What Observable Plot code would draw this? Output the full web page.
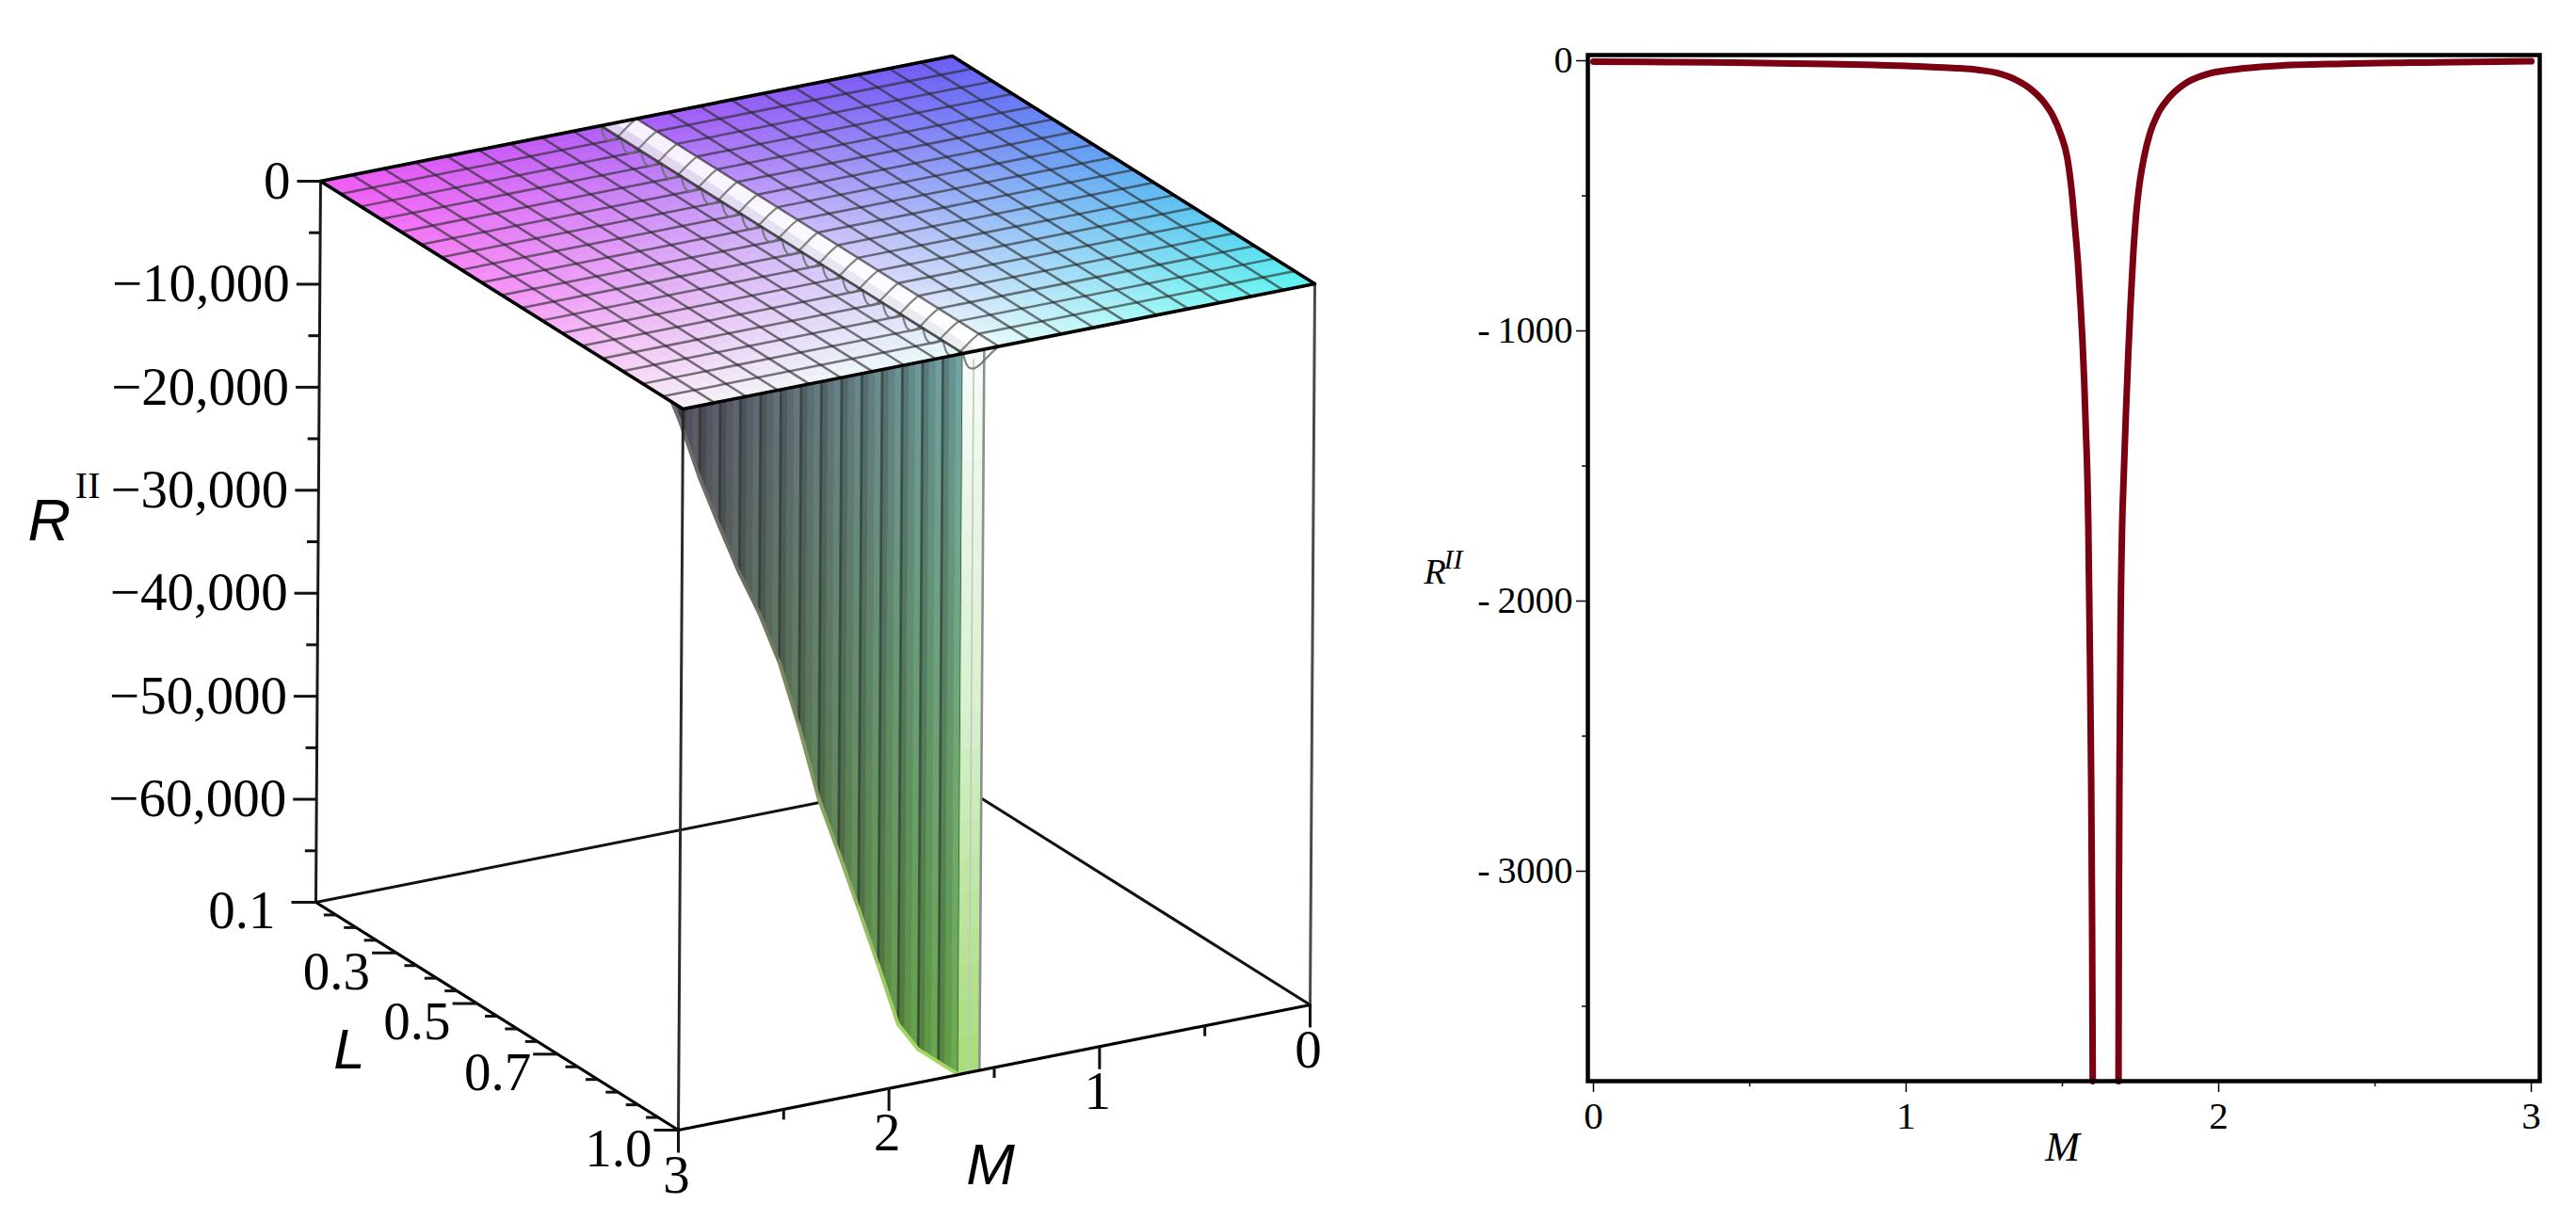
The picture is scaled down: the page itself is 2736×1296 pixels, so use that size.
<!DOCTYPE html>
<html>
<head>
<meta charset="utf-8">
<script src="https://cdn.jsdelivr.net/npm/d3@7"></script>
<script src="https://cdn.jsdelivr.net/npm/@observablehq/plot@0.6"></script>
<style>
  html, body { margin: 0; padding: 0; background: #ffffff; }
  #wrap { position: relative; width: 2736px; height: 1296px; overflow: hidden; background: #fff; }
  #left { position: absolute; left: 0; top: 0; }
  #right { position: absolute; left: 1500px; top: 0; }
</style>
</head>
<body>
<div id="wrap"><div id="left"></div><div id="right"></div></div>
<script>
// ================= DATA =================
// ---- Right panel: R^II against M (two branches around the singularity) ----
const leftBranchM = [0, 0.25, 0.5, 0.75, 0.9, 1.0, 1.1, 1.17, 1.23, 1.29, 1.35, 1.40, 1.44, 1.47, 1.495, 1.515, 1.53, 1.54, 1.55, 1.558, 1.564, 1.57, 1.575, 1.58, 1.583, 1.588, 1.592, 1.595, 1.597];
const leftBranchR = [-3, -5, -8, -12, -16, -19, -24, -28, -34, -45, -70, -106, -152, -205, -274, -356, -485, -613, -753, -903, -1031, -1194, -1368, -1543, -1728, -2200, -2659, -3200, -3777];
const rightBranchM = [1.6795, 1.6805, 1.6825, 1.686, 1.691, 1.696, 1.703, 1.711, 1.718, 1.726, 1.736, 1.746, 1.761, 1.781, 1.806, 1.841, 1.892, 1.962, 2.052, 2.183, 2.4, 2.7, 3.0];
const rightBranchR = [-3777, -3200, -2659, -2100, -1728, -1543, -1310, -1078, -903, -729, -567, -462, -358, -265, -195, -137, -85, -50, -32, -19, -11, -6, -2];
const rightXTicks = [0, 1, 2, 3];
const rightXMinor = [0.5, 1.5, 2.5];
const rightYTicks = [0, -1000, -2000, -3000];
const rightYMinor = [-500, -1500, -2500, -3500];
const rightXDomain = [-0.018, 3.027];
const rightYDomain = [-3777, 21];

// ---- Left panel: 3-D surface R^II(M, L) ----
const M_RANGE = [0, 3];
const L_RANGE = [0.1, 1.0];
const Z_RANGE = [-70000, 0];
const mGrid = [0, 0.15, 0.3, 0.45, 0.6, 0.75, 0.9, 1.05, 1.2, 1.35, 1.5, 1.8, 1.95, 2.1, 2.25, 2.4, 2.55, 2.7, 2.85, 3];
const lGrid = [0.1, 0.15, 0.2, 0.25, 0.3, 0.35, 0.4, 0.45, 0.5, 0.55, 0.6, 0.65, 0.7, 0.75, 0.8, 0.85, 0.9, 0.95, 1.0];
// depth reached by the sampled groove at each L (clipped at the box floor)
const curtainDepth = [8500, 12500, 16500, 20200, 23700, 28000, 31500, 34800, 37500, 41000, 46000, 51800, 55800, 60000, 64300, 68800, 70000, 70000, 70000];
const grooveM = 1.67;          // edge of the groove on the flat top
const grooveBandEnd = 1.5;     // far edge of the rounded groove band
const frontWallEnd = 1.57;     // far edge of the front cross-section of the groove
const grooveProfileM = [1.67, 1.655, 1.625, 1.585, 1.545, 1.5];
const grooveProfileZ = [0, -1300, -1800, -1400, -600, 0];
const zTicks = [0, -10000, -20000, -30000, -40000, -50000, -60000];
const zMinor = [-5000, -15000, -25000, -35000, -45000, -55000, -65000];
const lTicks = [0.1, 0.3, 0.5, 0.7, 1.0];
const lMinor = [0.15, 0.2, 0.25, 0.35, 0.4, 0.45, 0.55, 0.6, 0.65, 0.75, 0.8, 0.85, 0.9, 0.95];
const mTicks3 = [0, 1, 2, 3];
const mMinor3 = [0.5, 1.5, 2.5];

// ================= VIEW (orthographic projection of the box) =================
const VIEW = { o: [340, 192], eu: [671, -133], ev: [385, 242], ew: [-5, 766] };
function P(M, L, z) {
  const u = (M_RANGE[1] - M) / (M_RANGE[1] - M_RANGE[0]);
  const v = (L - L_RANGE[0]) / (L_RANGE[1] - L_RANGE[0]);
  const w = (Z_RANGE[1] - z) / (Z_RANGE[1] - Z_RANGE[0]);
  return [VIEW.o[0] + u * VIEW.eu[0] + v * VIEW.ev[0] + w * VIEW.ew[0],
          VIEW.o[1] + u * VIEW.eu[1] + v * VIEW.ev[1] + w * VIEW.ew[1]];
}
const ZMIN = Z_RANGE[0], MMAX = M_RANGE[1], MMIN = M_RANGE[0], LMIN = L_RANGE[0], LMAX = L_RANGE[1];

let pid = 0;
function pushPoly(arr, pts, fill) {
  const id = pid++;
  pts.concat([pts[0]]).forEach(([M, L, z]) => { const [x, y] = P(M, L, z); arr.push({ id, x, y, fill }); });
}
function pushLine(arr, pts, stroke) {
  const id = pid++;
  pts.forEach(([M, L, z]) => { const [x, y] = P(M, L, z); arr.push({ id, x, y, stroke }); });
}

// ---- colours ----
const TOP_COLORS = [
  ["#f25af4", "#a85cf6", "#6a5cf4"],
  ["#f594f6", "#cbbdf9", "#60acf2"],
  ["#f8f1f8", "#e6fbfb", "#5af3ef"]
];
const topRowInterp = TOP_COLORS.map(row => d3.piecewise(d3.interpolateRgb, row));
function topColor(u, v) {
  return d3.piecewise(d3.interpolateRgb, topRowInterp.map(f => f(u)))(v);
}
const curtainTop = d3.interpolateRgb("#594370", "#6b9c9c");
const curtainBot = d3.interpolateRgb("#4c5a3c", "#66a44a");
function curtainColor(L, zf) {
  const vv = Math.max(0, Math.min(1, (L - 0.25) / 0.75));
  return d3.interpolateRgb(curtainTop(vv), curtainBot(vv))(Math.max(0, Math.min(1, zf)));
}

// ---- top flat sheet patches ----
const topPatches = [];
const NV = 36;
const mBreaks = [];
for (let i = 0; i <= 60; i++) { const m = MMAX - (MMAX - MMIN) * i / 60; if (Math.abs(m - grooveM) > 0.03) mBreaks.push(m); }
mBreaks.push(grooveM);
mBreaks.sort((a, b) => b - a);
for (let i = 0; i < mBreaks.length - 1; i++) {
  const Ma = mBreaks[i], Mb = mBreaks[i + 1];
  const Mc = (Ma + Mb) / 2;
  const u = (MMAX - Mc) / (MMAX - MMIN);
  for (let j = 0; j < NV; j++) {
    const La = LMIN + (LMAX - LMIN) * j / NV, Lb = LMIN + (LMAX - LMIN) * (j + 1) / NV;
    let c = topColor(u, (j + 0.5) / NV);
    if (Mc < grooveM && Mc > grooveBandEnd) {
      const k = (grooveM - Mc) / (grooveM - grooveBandEnd);
      c = d3.interpolateRgb(c, k < 0.35 ? "#ececf0" : "#ffffff")(k < 0.35 ? 0.8 : 0.9);
    }
    pushPoly(topPatches, [[Ma, La, 0], [Mb, La, 0], [Mb, Lb, 0], [Ma, Lb, 0]], c);
  }
}

// ---- top grid lines ----
const topGridLines = [];
mGrid.forEach(M => pushLine(topGridLines, [[M, LMIN, 0], [M, LMAX, 0]], "#2a2a2a"));
const tubeLines = [];
lGrid.forEach(L => {
  pushLine(topGridLines, [[MMAX, L, 0], [grooveM, L, 0]], "#2a2a2a");
  pushLine(topGridLines, [[grooveBandEnd, L, 0], [MMIN, L, 0]], "#2a2a2a");
  pushLine(tubeLines, grooveProfileM.map((m, k) => [m, L, grooveProfileZ[k]]), "#777");
});
const grooveEdge = [];
pushLine(grooveEdge, [[grooveM, LMIN, 0], [grooveM, LMAX, 0]], "#333");

// ---- curtain (steep wall of the groove) ----
const curtainPatches = [];
const S = 3, K = 18;
for (let i = 0; i < lGrid.length - 1; i++) {
  const La = lGrid[i], Lb = lGrid[i + 1], Da = curtainDepth[i], Db = curtainDepth[i + 1];
  for (let s = 0; s < S; s++) {
    const f0 = s / S, f1 = (s + 1) / S;
    const L0 = La + (Lb - La) * f0, L1 = La + (Lb - La) * f1;
    const D0 = Da + (Db - Da) * f0, D1 = Da + (Db - Da) * f1;
    for (let k = 0; k < K; k++) {
      const t0 = k / K, t1 = (k + 1) / K;
      const zf = ((t0 + t1) / 2) * ((D0 + D1) / 2) / (-ZMIN);
      let c = curtainColor((L0 + L1) / 2, zf);
      c = s === 0 ? d3.color(c).darker(0.5).formatHex() : s === 1 ? d3.color(c).darker(0.1).formatHex() : d3.color(c).brighter(0.15).formatHex();
      pushPoly(curtainPatches, [[grooveM, L0, -t0 * D0], [grooveM, L1, -t0 * D1], [grooveM, L1, -t1 * D1], [grooveM, L0, -t1 * D0]], c);
    }
  }
}
const curtainLines = [];
lGrid.forEach((L, i) => pushLine(curtainLines, [[grooveM, L, 0], [grooveM, L, -curtainDepth[i]]], "#27302b"));
const rimLines = [];
const rimColor = d3.piecewise(d3.interpolateRgb, ["#7d6392", "#6c6c60", "#a4d664"]);
for (let i = 0; i < lGrid.length - 1; i++) {
  const zf = (curtainDepth[i] + curtainDepth[i + 1]) / 2 / (-ZMIN);
  pushLine(rimLines, [[grooveM, lGrid[i], -curtainDepth[i]], [grooveM, lGrid[i + 1], -curtainDepth[i + 1]]], rimColor(zf));
}

// ---- front cross-section of the groove (light strip) ----
const stripPatches = [];
const stripColor = d3.piecewise(d3.interpolateRgb, ["#f7fcf9", "#d6f1cc", "#a6dc76"]);
for (let k = 0; k < 20; k++) {
  const z0 = ZMIN * k / 20, z1 = ZMIN * (k + 1) / 20;
  pushPoly(stripPatches, [[grooveM, LMAX, z0], [frontWallEnd, LMAX, z0], [frontWallEnd, LMAX, z1], [grooveM, LMAX, z1]], stripColor((k + 0.5) / 20));
}
const stripLines = [];
pushLine(stripLines, [[frontWallEnd, LMAX, 0], [frontWallEnd, LMAX, ZMIN]], "#8e8e8e");
const stripInner = [];
pushLine(stripInner, [[(grooveM + frontWallEnd) / 2, LMAX, -800], [(grooveM + frontWallEnd) / 2, LMAX, ZMIN]], "#c4c4c4");

// ---- box edges ----
const hiddenEdges = [];
pushLine(hiddenEdges, [[MMAX, LMIN, ZMIN], [MMIN, LMIN, ZMIN], [MMIN, LMAX, ZMIN]], "#111");
pushLine(hiddenEdges, [[MMIN, LMIN, 0], [MMIN, LMIN, ZMIN]], "#111");
const topEdges = [];
pushLine(topEdges, [[MMAX, LMIN, 0], [MMIN, LMIN, 0], [MMIN, LMAX, 0], [MMAX, LMAX, 0], [MMAX, LMIN, 0]], "#000");
const floorEdges = [];
pushLine(floorEdges, [[MMAX, LMIN, ZMIN], [MMAX, LMAX, ZMIN], [MMIN, LMAX, ZMIN]], "#000");
const vertEdges = [];
pushLine(vertEdges, [[MMAX, LMIN, 0], [MMAX, LMIN, ZMIN]], "#1a1a1a");
pushLine(vertEdges, [[MMAX, LMAX, 0], [MMAX, LMAX, ZMIN]], "#2a2a2a");
pushLine(vertEdges, [[MMIN, LMAX, 0], [MMIN, LMAX, ZMIN]], "#4a4a4a");

// ---- 3-D axis ticks & labels ----
function tickRows(vals, f, dx, dy) {
  return vals.map(v => { const [x, y] = f(v); return { x1: x, y1: y, x2: x + dx, y2: y + dy }; });
}
const zAxisAt = z => P(MMAX, LMIN, z);
const lAxisAt = L => P(MMAX, L, ZMIN);
const mAxisAt = M => P(M, LMAX, ZMIN);
const ticks3 = [
  ...tickRows(zTicks, zAxisAt, -25, 0), ...tickRows(zMinor, zAxisAt, -12, 0),
  ...tickRows(lTicks, lAxisAt, -26, 0), ...tickRows(lMinor, lAxisAt, -13, 0),
  ...tickRows(mTicks3, mAxisAt, 0, 24), ...tickRows(mMinor3, mAxisAt, 0, 11)
];
const fmtZ = d3.format(",");
const zLabels = zTicks.map(z => { const [x, y] = zAxisAt(z); return { x, y, t: fmtZ(z) }; });
const lLabelsFirst = lTicks.slice(0, 1).map(L => { const [x, y] = lAxisAt(L); return { x, y, t: L.toFixed(1) }; });
const lLabelsRest = lTicks.slice(1).map(L => { const [x, y] = lAxisAt(L); return { x, y, t: L.toFixed(1) }; });
const mLabels = mTicks3.map(M => { const [x, y] = mAxisAt(M); return { x, y, t: String(M) }; });
const [rx, ry] = P(MMAX, LMIN, -33000);
const [lx, ly] = P(MMAX, (LMIN + LMAX) / 2, ZMIN);
const [mx, my] = P((MMIN + MMAX) / 2, LMAX, ZMIN);

const SERIF = "'Liberation Serif', 'Times New Roman', serif";
const SANS = "'Liberation Sans', Arial, sans-serif";

const leftPlot = Plot.plot({
  width: 1500, height: 1296, margin: 0,
  x: { type: "identity", axis: null },
  y: { type: "identity", axis: null },
  color: { type: "identity" },
  style: { background: "transparent", overflow: "visible" },
  marks: [
    Plot.line(hiddenEdges, { x: "x", y: "y", z: "id", stroke: "#111", strokeWidth: 3 }),
    Plot.line(curtainPatches, { x: "x", y: "y", z: "id", fill: "fill", stroke: "fill", strokeWidth: 0.9 }),
    Plot.line(curtainLines, { x: "x", y: "y", z: "id", stroke: "#27302b", strokeOpacity: 0.6, strokeWidth: 2.8 }),
    Plot.line(rimLines, { x: "x", y: "y", z: "id", stroke: "stroke", strokeWidth: 4, strokeLinecap: "round" }),
    Plot.line(stripPatches, { x: "x", y: "y", z: "id", fill: "fill", stroke: "fill", strokeWidth: 0.9 }),
    Plot.line(stripInner, { x: "x", y: "y", z: "id", stroke: "#c4c4c4", strokeWidth: 1.6 }),
    Plot.line(stripLines, { x: "x", y: "y", z: "id", stroke: "#8e8e8e", strokeWidth: 2.6 }),
    Plot.line(topPatches, { x: "x", y: "y", z: "id", fill: "fill", stroke: "fill", strokeWidth: 0.7 }),
    Plot.line(topGridLines, { x: "x", y: "y", z: "id", stroke: "#262626", strokeOpacity: 0.62, strokeWidth: 2.5 }),
    Plot.line(tubeLines, { x: "x", y: "y", z: "id", stroke: "#6e6e6e", strokeOpacity: 0.85, strokeWidth: 2.2, curve: "basis" }),
    Plot.line(grooveEdge, { x: "x", y: "y", z: "id", stroke: "#333", strokeOpacity: 0.85, strokeWidth: 2.8 }),
    Plot.line(vertEdges, { x: "x", y: "y", z: "id", stroke: "stroke", strokeWidth: 3 }),
    Plot.line(floorEdges, { x: "x", y: "y", z: "id", stroke: "#000", strokeWidth: 3.2 }),
    Plot.line(topEdges, { x: "x", y: "y", z: "id", stroke: "#000", strokeWidth: 3.6, strokeLinejoin: "round" }),
    Plot.link(ticks3, { x1: "x1", y1: "y1", x2: "x2", y2: "y2", stroke: "#111", strokeWidth: 3 }),
    Plot.text(zLabels, { x: "x", y: "y", text: "t", dx: -32, textAnchor: "end", fontSize: 57, fontFamily: SERIF, fill: "#000" }),
    Plot.text(lLabelsFirst, { x: "x", y: "y", text: "t", dx: -43, dy: 9, textAnchor: "end", fontSize: 57, fontFamily: SERIF, fill: "#000" }),
    Plot.text(lLabelsRest, { x: "x", y: "y", text: "t", dx: -28, dy: 20, textAnchor: "end", fontSize: 57, fontFamily: SERIF, fill: "#000" }),
    Plot.text(mLabels, { x: "x", y: "y", text: "t", dx: -2, dy: 48, textAnchor: "middle", fontSize: 57, fontFamily: SERIF, fill: "#000" }),
    Plot.text([{ x: rx, y: ry }], { x: "x", y: "y", text: () => "R", dx: -286, fontSize: 63, fontStyle: "italic", fontFamily: SANS, fill: "#000" }),
    Plot.text([{ x: rx, y: ry }], { x: "x", y: "y", text: () => "II", dx: -245, dy: -37, fontSize: 40, fontFamily: SERIF, fill: "#000" }),
    Plot.text([{ x: lx, y: ly }], { x: "x", y: "y", text: () => "L", dx: -157, dy: 36, fontSize: 60, fontStyle: "italic", fontFamily: SANS, fill: "#000" }),
    Plot.text([{ x: mx, y: my }], { x: "x", y: "y", text: () => "M", dx: -4, dy: 104, fontSize: 62, fontStyle: "italic", fontFamily: SANS, fill: "#000" })
  ]
});
document.getElementById("left").append(leftPlot);

// ================= RIGHT PANEL =================
const leftBranch = leftBranchM.map((m, i) => ({ M: m, R: leftBranchR[i] }));
const rightBranch = rightBranchM.map((m, i) => ({ M: m, R: rightBranchR[i] }));
const yFmt = d => d === 0 ? "0" : "-\u2009" + Math.abs(d);
const rightPlot = Plot.plot({
  width: 1236, height: 1296,
  marginLeft: 186, marginRight: 39, marginTop: 58, marginBottom: 148,
  x: { domain: rightXDomain, axis: null },
  y: { domain: rightYDomain, axis: null },
  style: { background: "white", fontFamily: SERIF, color: "#000", overflow: "visible" },
  marks: [
    Plot.axisX(rightXTicks, { anchor: "bottom", tickSize: 12, tickPadding: 9, fontSize: 41, strokeWidth: 1.5, label: null, tickFormat: d => String(d), fontFamily: SERIF }),
    Plot.axisX(rightXMinor, { anchor: "bottom", tickSize: 6, strokeWidth: 1.5, label: null, tickFormat: () => "" }),
    Plot.axisY(rightYTicks, { anchor: "left", tickSize: 12, tickPadding: 4, fontSize: 40, strokeWidth: 1.5, label: null, tickFormat: yFmt, fontFamily: SERIF }),
    Plot.axisY(rightYMinor, { anchor: "left", tickSize: 6, strokeWidth: 1.5, label: null, tickFormat: () => "" }),
    Plot.line(leftBranch, { x: "M", y: "R", stroke: "#7a0012", strokeWidth: 7, curve: "monotone-x" }),
    Plot.line(rightBranch, { x: "M", y: "R", stroke: "#7a0012", strokeWidth: 7, curve: "monotone-x" }),
    Plot.frame({ stroke: "#000", strokeWidth: 4.5 }),
    Plot.text([1.5], { x: d => d, frameAnchor: "bottom", dy: 84, text: () => "M", fontSize: 44, fontStyle: "italic", fontFamily: SERIF, fill: "#000" }),
    Plot.text([-1892], { y: d => d, frameAnchor: "left", dx: -174, text: () => "R", fontSize: 38, fontStyle: "italic", fontFamily: SERIF, fill: "#000" }),
    Plot.text([-1845], { y: d => d, frameAnchor: "left", dx: -153, text: () => "II", fontSize: 30, fontStyle: "italic", fontFamily: SERIF, fill: "#000" })
  ]
});
document.getElementById("right").append(rightPlot);
</script>
</body>
</html>
